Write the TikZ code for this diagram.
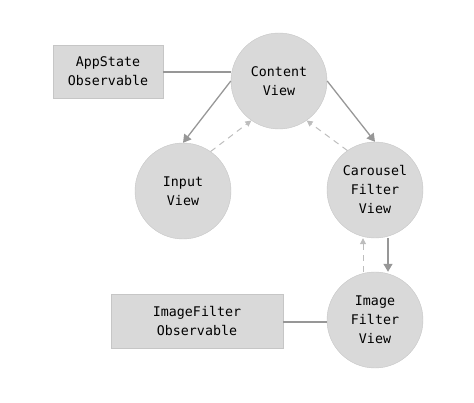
\documentclass[tikz,border=0pt]{standalone}
\usepackage{fontspec}
\setmonofont{DejaVu Sans Mono}
\usepackage{tikz}
\usetikzlibrary{arrows.meta}
\definecolor{boxgray}{HTML}{D9D9D9}
\definecolor{rimgray}{HTML}{C6C6C6}
\definecolor{linegray}{HTML}{979797}
\definecolor{dashgray}{HTML}{BDBDBD}

\begin{document}
\begin{tikzpicture}[x=1pt,y=-1pt,font=\ttfamily\fontsize{13.3}{19}\selectfont]
	\useasboundingbox (0,0) rectangle (474,403);
	\begin{scope}[every node/.style={circle,draw=rimgray,fill=boxgray,minimum size=96pt,inner sep=0pt,align=center}]
		\node (content) at (279,81) {Content\\View};
		\node (input) at (183,191) {Input\\View};
		\node (carousel) at (375,190) {Carousel\\Filter\\View};
		\node (image) at (375,320) {Image\\Filter\\View};
	\end{scope}

	\begin{scope}[every node/.style={rectangle,draw=rimgray,fill=boxgray,align=center,inner sep=0pt}]
		\node[minimum width=110pt,minimum height=53pt] (appstate) at (108,71.5) {AppState\\Observable};
		\node[minimum width=172pt,minimum height=54pt] (imagefilter) at (197,321) {ImageFilter\\Observable};
	\end{scope}

	\begin{scope}[>={Triangle[length=8pt,width=9pt]},
	              every path/.style={line width=1.3pt}]
		\draw[linegray] (appstate.east |- 0,72) -- (content.west |- 0,72);
		\draw[linegray] (imagefilter.east |- 0,322) -- (image.west |- 0,322);
		\draw[linegray,->] (content.west) -- (input.north);
		\draw[linegray,->] (content.east) -- (carousel.north);
		\draw[linegray,->] ([xshift=13pt]carousel.south) -- ([xshift=13pt]image.north);
	\end{scope}

	\begin{scope}[>={Triangle[length=6pt,width=6pt]},
	              every path/.style={dashgray,line width=1pt,dash pattern=on 6pt off 5pt}]
		\draw[->] (input.55) -- (content.-125);
		\draw[->] (carousel.125) -- (content.-55);
		\draw[->] ([xshift=-12pt]image.north) -- ([xshift=-12pt]carousel.south);
	\end{scope}
\end{tikzpicture}
\end{document}
